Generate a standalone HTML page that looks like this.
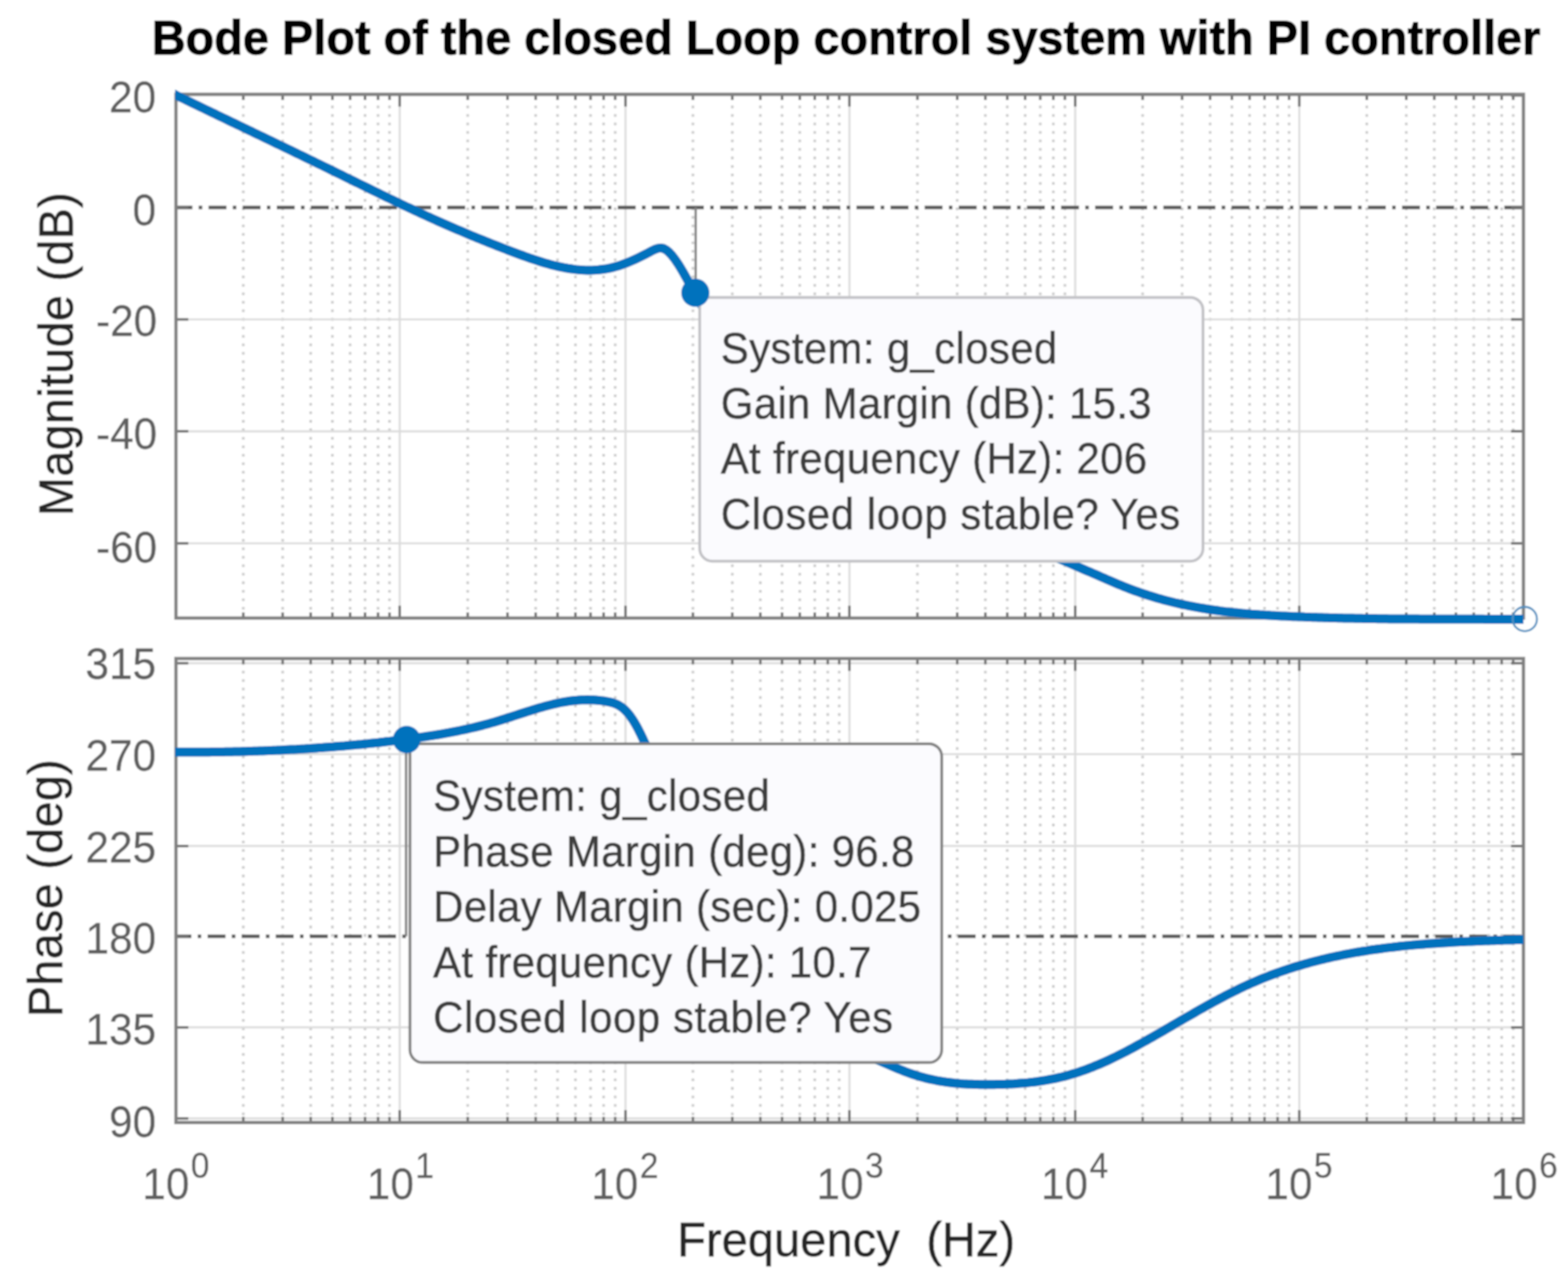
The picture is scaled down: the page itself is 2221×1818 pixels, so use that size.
<!DOCTYPE html>
<html lang="en">
<head>
<meta charset="utf-8">
<title>Bode Plot of the closed Loop control system with PI controller</title>
<style>
html,body{margin:0;padding:0;background:#fff;}
body{width:2221px;height:1818px;overflow:hidden;}
svg{display:block;font-family:'Liberation Sans', Arial, Helvetica, sans-serif;}
</style>
</head>
<body>
<svg width="2221" height="1818" viewBox="0 0 2221 1818">
<defs><filter id="soft" x="0" y="0" width="2221" height="1818" filterUnits="userSpaceOnUse"><feGaussianBlur stdDeviation="0.9"/></filter></defs>
<g filter="url(#soft)">
<rect width="2221" height="1818" fill="#ffffff"/>
<clipPath id="clip1"><rect x="249.2" y="133.6" width="1908.7" height="742.1999999999999"/></clipPath>
<g clip-path="url(#clip1)">
<line x1="344.6" y1="125.52" x2="344.6" y2="875.8" stroke="#cccccc" stroke-width="3.8" stroke-dasharray="3.8 8.24"/>
<line x1="400.4" y1="125.52" x2="400.4" y2="875.8" stroke="#cccccc" stroke-width="3.8" stroke-dasharray="3.8 8.24"/>
<line x1="440.1" y1="125.52" x2="440.1" y2="875.8" stroke="#cccccc" stroke-width="3.8" stroke-dasharray="3.8 8.24"/>
<line x1="470.8" y1="125.52" x2="470.8" y2="875.8" stroke="#cccccc" stroke-width="3.8" stroke-dasharray="3.8 8.24"/>
<line x1="495.9" y1="125.52" x2="495.9" y2="875.8" stroke="#cccccc" stroke-width="3.8" stroke-dasharray="3.8 8.24"/>
<line x1="517.1" y1="125.52" x2="517.1" y2="875.8" stroke="#cccccc" stroke-width="3.8" stroke-dasharray="3.8 8.24"/>
<line x1="535.5" y1="125.52" x2="535.5" y2="875.8" stroke="#cccccc" stroke-width="3.8" stroke-dasharray="3.8 8.24"/>
<line x1="551.7" y1="125.52" x2="551.7" y2="875.8" stroke="#cccccc" stroke-width="3.8" stroke-dasharray="3.8 8.24"/>
<line x1="662.5" y1="125.52" x2="662.5" y2="875.8" stroke="#cccccc" stroke-width="3.8" stroke-dasharray="3.8 8.24"/>
<line x1="718.8" y1="125.52" x2="718.8" y2="875.8" stroke="#cccccc" stroke-width="3.8" stroke-dasharray="3.8 8.24"/>
<line x1="758.7" y1="125.52" x2="758.7" y2="875.8" stroke="#cccccc" stroke-width="3.8" stroke-dasharray="3.8 8.24"/>
<line x1="789.7" y1="125.52" x2="789.7" y2="875.8" stroke="#cccccc" stroke-width="3.8" stroke-dasharray="3.8 8.24"/>
<line x1="815.1" y1="125.52" x2="815.1" y2="875.8" stroke="#cccccc" stroke-width="3.8" stroke-dasharray="3.8 8.24"/>
<line x1="836.5" y1="125.52" x2="836.5" y2="875.8" stroke="#cccccc" stroke-width="3.8" stroke-dasharray="3.8 8.24"/>
<line x1="855.0" y1="125.52" x2="855.0" y2="875.8" stroke="#cccccc" stroke-width="3.8" stroke-dasharray="3.8 8.24"/>
<line x1="871.4" y1="125.52" x2="871.4" y2="875.8" stroke="#cccccc" stroke-width="3.8" stroke-dasharray="3.8 8.24"/>
<line x1="981.5" y1="125.52" x2="981.5" y2="875.8" stroke="#cccccc" stroke-width="3.8" stroke-dasharray="3.8 8.24"/>
<line x1="1037.3" y1="125.52" x2="1037.3" y2="875.8" stroke="#cccccc" stroke-width="3.8" stroke-dasharray="3.8 8.24"/>
<line x1="1077.0" y1="125.52" x2="1077.0" y2="875.8" stroke="#cccccc" stroke-width="3.8" stroke-dasharray="3.8 8.24"/>
<line x1="1107.7" y1="125.52" x2="1107.7" y2="875.8" stroke="#cccccc" stroke-width="3.8" stroke-dasharray="3.8 8.24"/>
<line x1="1132.8" y1="125.52" x2="1132.8" y2="875.8" stroke="#cccccc" stroke-width="3.8" stroke-dasharray="3.8 8.24"/>
<line x1="1154.1" y1="125.52" x2="1154.1" y2="875.8" stroke="#cccccc" stroke-width="3.8" stroke-dasharray="3.8 8.24"/>
<line x1="1172.5" y1="125.52" x2="1172.5" y2="875.8" stroke="#cccccc" stroke-width="3.8" stroke-dasharray="3.8 8.24"/>
<line x1="1188.7" y1="125.52" x2="1188.7" y2="875.8" stroke="#cccccc" stroke-width="3.8" stroke-dasharray="3.8 8.24"/>
<line x1="1299.5" y1="125.52" x2="1299.5" y2="875.8" stroke="#cccccc" stroke-width="3.8" stroke-dasharray="3.8 8.24"/>
<line x1="1355.8" y1="125.52" x2="1355.8" y2="875.8" stroke="#cccccc" stroke-width="3.8" stroke-dasharray="3.8 8.24"/>
<line x1="1395.7" y1="125.52" x2="1395.7" y2="875.8" stroke="#cccccc" stroke-width="3.8" stroke-dasharray="3.8 8.24"/>
<line x1="1426.7" y1="125.52" x2="1426.7" y2="875.8" stroke="#cccccc" stroke-width="3.8" stroke-dasharray="3.8 8.24"/>
<line x1="1452.1" y1="125.52" x2="1452.1" y2="875.8" stroke="#cccccc" stroke-width="3.8" stroke-dasharray="3.8 8.24"/>
<line x1="1473.5" y1="125.52" x2="1473.5" y2="875.8" stroke="#cccccc" stroke-width="3.8" stroke-dasharray="3.8 8.24"/>
<line x1="1492.0" y1="125.52" x2="1492.0" y2="875.8" stroke="#cccccc" stroke-width="3.8" stroke-dasharray="3.8 8.24"/>
<line x1="1508.4" y1="125.52" x2="1508.4" y2="875.8" stroke="#cccccc" stroke-width="3.8" stroke-dasharray="3.8 8.24"/>
<line x1="1618.5" y1="125.52" x2="1618.5" y2="875.8" stroke="#cccccc" stroke-width="3.8" stroke-dasharray="3.8 8.24"/>
<line x1="1674.4" y1="125.52" x2="1674.4" y2="875.8" stroke="#cccccc" stroke-width="3.8" stroke-dasharray="3.8 8.24"/>
<line x1="1714.1" y1="125.52" x2="1714.1" y2="875.8" stroke="#cccccc" stroke-width="3.8" stroke-dasharray="3.8 8.24"/>
<line x1="1744.9" y1="125.52" x2="1744.9" y2="875.8" stroke="#cccccc" stroke-width="3.8" stroke-dasharray="3.8 8.24"/>
<line x1="1770.0" y1="125.52" x2="1770.0" y2="875.8" stroke="#cccccc" stroke-width="3.8" stroke-dasharray="3.8 8.24"/>
<line x1="1791.2" y1="125.52" x2="1791.2" y2="875.8" stroke="#cccccc" stroke-width="3.8" stroke-dasharray="3.8 8.24"/>
<line x1="1809.6" y1="125.52" x2="1809.6" y2="875.8" stroke="#cccccc" stroke-width="3.8" stroke-dasharray="3.8 8.24"/>
<line x1="1825.9" y1="125.52" x2="1825.9" y2="875.8" stroke="#cccccc" stroke-width="3.8" stroke-dasharray="3.8 8.24"/>
<line x1="1936.0" y1="125.52" x2="1936.0" y2="875.8" stroke="#cccccc" stroke-width="3.8" stroke-dasharray="3.8 8.24"/>
<line x1="1991.9" y1="125.52" x2="1991.9" y2="875.8" stroke="#cccccc" stroke-width="3.8" stroke-dasharray="3.8 8.24"/>
<line x1="2031.6" y1="125.52" x2="2031.6" y2="875.8" stroke="#cccccc" stroke-width="3.8" stroke-dasharray="3.8 8.24"/>
<line x1="2062.3" y1="125.52" x2="2062.3" y2="875.8" stroke="#cccccc" stroke-width="3.8" stroke-dasharray="3.8 8.24"/>
<line x1="2087.5" y1="125.52" x2="2087.5" y2="875.8" stroke="#cccccc" stroke-width="3.8" stroke-dasharray="3.8 8.24"/>
<line x1="2108.7" y1="125.52" x2="2108.7" y2="875.8" stroke="#cccccc" stroke-width="3.8" stroke-dasharray="3.8 8.24"/>
<line x1="2127.1" y1="125.52" x2="2127.1" y2="875.8" stroke="#cccccc" stroke-width="3.8" stroke-dasharray="3.8 8.24"/>
<line x1="2143.4" y1="125.52" x2="2143.4" y2="875.8" stroke="#cccccc" stroke-width="3.8" stroke-dasharray="3.8 8.24"/>
<line x1="566.2" y1="133.6" x2="566.2" y2="875.8" stroke="#dcdcdc" stroke-width="2.9"/>
<line x1="886.0" y1="133.6" x2="886.0" y2="875.8" stroke="#dcdcdc" stroke-width="2.9"/>
<line x1="1203.2" y1="133.6" x2="1203.2" y2="875.8" stroke="#dcdcdc" stroke-width="2.9"/>
<line x1="1523.0" y1="133.6" x2="1523.0" y2="875.8" stroke="#dcdcdc" stroke-width="2.9"/>
<line x1="1840.4" y1="133.6" x2="1840.4" y2="875.8" stroke="#dcdcdc" stroke-width="2.9"/>
<line x1="249.2" y1="135.3" x2="2157.9" y2="135.3" stroke="#dcdcdc" stroke-width="2.9"/>
<line x1="249.2" y1="452.6" x2="2157.9" y2="452.6" stroke="#dcdcdc" stroke-width="2.9"/>
<line x1="249.2" y1="611.2" x2="2157.9" y2="611.2" stroke="#dcdcdc" stroke-width="2.9"/>
<line x1="249.2" y1="769.9" x2="2157.9" y2="769.9" stroke="#dcdcdc" stroke-width="2.9"/>
</g>
<clipPath id="clip2"><rect x="249.2" y="933.1" width="1908.7" height="657.4999999999999"/></clipPath>
<g clip-path="url(#clip2)">
<line x1="344.6" y1="926.30" x2="344.6" y2="1590.6" stroke="#cccccc" stroke-width="3.8" stroke-dasharray="3.8 8.24"/>
<line x1="400.4" y1="926.30" x2="400.4" y2="1590.6" stroke="#cccccc" stroke-width="3.8" stroke-dasharray="3.8 8.24"/>
<line x1="440.1" y1="926.30" x2="440.1" y2="1590.6" stroke="#cccccc" stroke-width="3.8" stroke-dasharray="3.8 8.24"/>
<line x1="470.8" y1="926.30" x2="470.8" y2="1590.6" stroke="#cccccc" stroke-width="3.8" stroke-dasharray="3.8 8.24"/>
<line x1="495.9" y1="926.30" x2="495.9" y2="1590.6" stroke="#cccccc" stroke-width="3.8" stroke-dasharray="3.8 8.24"/>
<line x1="517.1" y1="926.30" x2="517.1" y2="1590.6" stroke="#cccccc" stroke-width="3.8" stroke-dasharray="3.8 8.24"/>
<line x1="535.5" y1="926.30" x2="535.5" y2="1590.6" stroke="#cccccc" stroke-width="3.8" stroke-dasharray="3.8 8.24"/>
<line x1="551.7" y1="926.30" x2="551.7" y2="1590.6" stroke="#cccccc" stroke-width="3.8" stroke-dasharray="3.8 8.24"/>
<line x1="662.5" y1="926.30" x2="662.5" y2="1590.6" stroke="#cccccc" stroke-width="3.8" stroke-dasharray="3.8 8.24"/>
<line x1="718.8" y1="926.30" x2="718.8" y2="1590.6" stroke="#cccccc" stroke-width="3.8" stroke-dasharray="3.8 8.24"/>
<line x1="758.7" y1="926.30" x2="758.7" y2="1590.6" stroke="#cccccc" stroke-width="3.8" stroke-dasharray="3.8 8.24"/>
<line x1="789.7" y1="926.30" x2="789.7" y2="1590.6" stroke="#cccccc" stroke-width="3.8" stroke-dasharray="3.8 8.24"/>
<line x1="815.1" y1="926.30" x2="815.1" y2="1590.6" stroke="#cccccc" stroke-width="3.8" stroke-dasharray="3.8 8.24"/>
<line x1="836.5" y1="926.30" x2="836.5" y2="1590.6" stroke="#cccccc" stroke-width="3.8" stroke-dasharray="3.8 8.24"/>
<line x1="855.0" y1="926.30" x2="855.0" y2="1590.6" stroke="#cccccc" stroke-width="3.8" stroke-dasharray="3.8 8.24"/>
<line x1="871.4" y1="926.30" x2="871.4" y2="1590.6" stroke="#cccccc" stroke-width="3.8" stroke-dasharray="3.8 8.24"/>
<line x1="981.5" y1="926.30" x2="981.5" y2="1590.6" stroke="#cccccc" stroke-width="3.8" stroke-dasharray="3.8 8.24"/>
<line x1="1037.3" y1="926.30" x2="1037.3" y2="1590.6" stroke="#cccccc" stroke-width="3.8" stroke-dasharray="3.8 8.24"/>
<line x1="1077.0" y1="926.30" x2="1077.0" y2="1590.6" stroke="#cccccc" stroke-width="3.8" stroke-dasharray="3.8 8.24"/>
<line x1="1107.7" y1="926.30" x2="1107.7" y2="1590.6" stroke="#cccccc" stroke-width="3.8" stroke-dasharray="3.8 8.24"/>
<line x1="1132.8" y1="926.30" x2="1132.8" y2="1590.6" stroke="#cccccc" stroke-width="3.8" stroke-dasharray="3.8 8.24"/>
<line x1="1154.1" y1="926.30" x2="1154.1" y2="1590.6" stroke="#cccccc" stroke-width="3.8" stroke-dasharray="3.8 8.24"/>
<line x1="1172.5" y1="926.30" x2="1172.5" y2="1590.6" stroke="#cccccc" stroke-width="3.8" stroke-dasharray="3.8 8.24"/>
<line x1="1188.7" y1="926.30" x2="1188.7" y2="1590.6" stroke="#cccccc" stroke-width="3.8" stroke-dasharray="3.8 8.24"/>
<line x1="1299.5" y1="926.30" x2="1299.5" y2="1590.6" stroke="#cccccc" stroke-width="3.8" stroke-dasharray="3.8 8.24"/>
<line x1="1355.8" y1="926.30" x2="1355.8" y2="1590.6" stroke="#cccccc" stroke-width="3.8" stroke-dasharray="3.8 8.24"/>
<line x1="1395.7" y1="926.30" x2="1395.7" y2="1590.6" stroke="#cccccc" stroke-width="3.8" stroke-dasharray="3.8 8.24"/>
<line x1="1426.7" y1="926.30" x2="1426.7" y2="1590.6" stroke="#cccccc" stroke-width="3.8" stroke-dasharray="3.8 8.24"/>
<line x1="1452.1" y1="926.30" x2="1452.1" y2="1590.6" stroke="#cccccc" stroke-width="3.8" stroke-dasharray="3.8 8.24"/>
<line x1="1473.5" y1="926.30" x2="1473.5" y2="1590.6" stroke="#cccccc" stroke-width="3.8" stroke-dasharray="3.8 8.24"/>
<line x1="1492.0" y1="926.30" x2="1492.0" y2="1590.6" stroke="#cccccc" stroke-width="3.8" stroke-dasharray="3.8 8.24"/>
<line x1="1508.4" y1="926.30" x2="1508.4" y2="1590.6" stroke="#cccccc" stroke-width="3.8" stroke-dasharray="3.8 8.24"/>
<line x1="1618.5" y1="926.30" x2="1618.5" y2="1590.6" stroke="#cccccc" stroke-width="3.8" stroke-dasharray="3.8 8.24"/>
<line x1="1674.4" y1="926.30" x2="1674.4" y2="1590.6" stroke="#cccccc" stroke-width="3.8" stroke-dasharray="3.8 8.24"/>
<line x1="1714.1" y1="926.30" x2="1714.1" y2="1590.6" stroke="#cccccc" stroke-width="3.8" stroke-dasharray="3.8 8.24"/>
<line x1="1744.9" y1="926.30" x2="1744.9" y2="1590.6" stroke="#cccccc" stroke-width="3.8" stroke-dasharray="3.8 8.24"/>
<line x1="1770.0" y1="926.30" x2="1770.0" y2="1590.6" stroke="#cccccc" stroke-width="3.8" stroke-dasharray="3.8 8.24"/>
<line x1="1791.2" y1="926.30" x2="1791.2" y2="1590.6" stroke="#cccccc" stroke-width="3.8" stroke-dasharray="3.8 8.24"/>
<line x1="1809.6" y1="926.30" x2="1809.6" y2="1590.6" stroke="#cccccc" stroke-width="3.8" stroke-dasharray="3.8 8.24"/>
<line x1="1825.9" y1="926.30" x2="1825.9" y2="1590.6" stroke="#cccccc" stroke-width="3.8" stroke-dasharray="3.8 8.24"/>
<line x1="1936.0" y1="926.30" x2="1936.0" y2="1590.6" stroke="#cccccc" stroke-width="3.8" stroke-dasharray="3.8 8.24"/>
<line x1="1991.9" y1="926.30" x2="1991.9" y2="1590.6" stroke="#cccccc" stroke-width="3.8" stroke-dasharray="3.8 8.24"/>
<line x1="2031.6" y1="926.30" x2="2031.6" y2="1590.6" stroke="#cccccc" stroke-width="3.8" stroke-dasharray="3.8 8.24"/>
<line x1="2062.3" y1="926.30" x2="2062.3" y2="1590.6" stroke="#cccccc" stroke-width="3.8" stroke-dasharray="3.8 8.24"/>
<line x1="2087.5" y1="926.30" x2="2087.5" y2="1590.6" stroke="#cccccc" stroke-width="3.8" stroke-dasharray="3.8 8.24"/>
<line x1="2108.7" y1="926.30" x2="2108.7" y2="1590.6" stroke="#cccccc" stroke-width="3.8" stroke-dasharray="3.8 8.24"/>
<line x1="2127.1" y1="926.30" x2="2127.1" y2="1590.6" stroke="#cccccc" stroke-width="3.8" stroke-dasharray="3.8 8.24"/>
<line x1="2143.4" y1="926.30" x2="2143.4" y2="1590.6" stroke="#cccccc" stroke-width="3.8" stroke-dasharray="3.8 8.24"/>
<line x1="566.2" y1="933.1" x2="566.2" y2="1590.6" stroke="#dcdcdc" stroke-width="2.9"/>
<line x1="886.0" y1="933.1" x2="886.0" y2="1590.6" stroke="#dcdcdc" stroke-width="2.9"/>
<line x1="1203.2" y1="933.1" x2="1203.2" y2="1590.6" stroke="#dcdcdc" stroke-width="2.9"/>
<line x1="1523.0" y1="933.1" x2="1523.0" y2="1590.6" stroke="#dcdcdc" stroke-width="2.9"/>
<line x1="1840.4" y1="933.1" x2="1840.4" y2="1590.6" stroke="#dcdcdc" stroke-width="2.9"/>
<line x1="249.2" y1="939.7" x2="2157.9" y2="939.7" stroke="#dcdcdc" stroke-width="2.9"/>
<line x1="249.2" y1="1068.6" x2="2157.9" y2="1068.6" stroke="#dcdcdc" stroke-width="2.9"/>
<line x1="249.2" y1="1198.8" x2="2157.9" y2="1198.8" stroke="#dcdcdc" stroke-width="2.9"/>
<line x1="249.2" y1="1455.8" x2="2157.9" y2="1455.8" stroke="#dcdcdc" stroke-width="2.9"/>
<line x1="249.2" y1="1584.8" x2="2157.9" y2="1584.8" stroke="#dcdcdc" stroke-width="2.9"/>
</g>
<line x1="247.09999999999997" y1="293.9" x2="2157.9" y2="293.9" stroke="#585858" stroke-width="5.0" stroke-dasharray="25.4 8.9 5.1 8.9" clip-path="url(#clip1)"/>
<line x1="245.70000000000005" y1="1326.8" x2="2157.9" y2="1326.8" stroke="#585858" stroke-width="5.0" stroke-dasharray="25.4 8.9 5.1 8.9" clip-path="url(#clip2)"/>
<line x1="344.6" y1="133.6" x2="344.6" y2="141.6" stroke="#6e6e6e" stroke-width="3.6"/>
<line x1="344.6" y1="875.8" x2="344.6" y2="867.8" stroke="#6e6e6e" stroke-width="3.6"/>
<line x1="400.4" y1="133.6" x2="400.4" y2="141.6" stroke="#6e6e6e" stroke-width="3.6"/>
<line x1="400.4" y1="875.8" x2="400.4" y2="867.8" stroke="#6e6e6e" stroke-width="3.6"/>
<line x1="440.1" y1="133.6" x2="440.1" y2="141.6" stroke="#6e6e6e" stroke-width="3.6"/>
<line x1="440.1" y1="875.8" x2="440.1" y2="867.8" stroke="#6e6e6e" stroke-width="3.6"/>
<line x1="470.8" y1="133.6" x2="470.8" y2="141.6" stroke="#6e6e6e" stroke-width="3.6"/>
<line x1="470.8" y1="875.8" x2="470.8" y2="867.8" stroke="#6e6e6e" stroke-width="3.6"/>
<line x1="495.9" y1="133.6" x2="495.9" y2="141.6" stroke="#6e6e6e" stroke-width="3.6"/>
<line x1="495.9" y1="875.8" x2="495.9" y2="867.8" stroke="#6e6e6e" stroke-width="3.6"/>
<line x1="517.1" y1="133.6" x2="517.1" y2="141.6" stroke="#6e6e6e" stroke-width="3.6"/>
<line x1="517.1" y1="875.8" x2="517.1" y2="867.8" stroke="#6e6e6e" stroke-width="3.6"/>
<line x1="535.5" y1="133.6" x2="535.5" y2="141.6" stroke="#6e6e6e" stroke-width="3.6"/>
<line x1="535.5" y1="875.8" x2="535.5" y2="867.8" stroke="#6e6e6e" stroke-width="3.6"/>
<line x1="551.7" y1="133.6" x2="551.7" y2="141.6" stroke="#6e6e6e" stroke-width="3.6"/>
<line x1="551.7" y1="875.8" x2="551.7" y2="867.8" stroke="#6e6e6e" stroke-width="3.6"/>
<line x1="566.2" y1="133.6" x2="566.2" y2="151.1" stroke="#6e6e6e" stroke-width="3.6"/>
<line x1="566.2" y1="875.8" x2="566.2" y2="858.3" stroke="#6e6e6e" stroke-width="3.6"/>
<line x1="662.5" y1="133.6" x2="662.5" y2="141.6" stroke="#6e6e6e" stroke-width="3.6"/>
<line x1="662.5" y1="875.8" x2="662.5" y2="867.8" stroke="#6e6e6e" stroke-width="3.6"/>
<line x1="718.8" y1="133.6" x2="718.8" y2="141.6" stroke="#6e6e6e" stroke-width="3.6"/>
<line x1="718.8" y1="875.8" x2="718.8" y2="867.8" stroke="#6e6e6e" stroke-width="3.6"/>
<line x1="758.7" y1="133.6" x2="758.7" y2="141.6" stroke="#6e6e6e" stroke-width="3.6"/>
<line x1="758.7" y1="875.8" x2="758.7" y2="867.8" stroke="#6e6e6e" stroke-width="3.6"/>
<line x1="789.7" y1="133.6" x2="789.7" y2="141.6" stroke="#6e6e6e" stroke-width="3.6"/>
<line x1="789.7" y1="875.8" x2="789.7" y2="867.8" stroke="#6e6e6e" stroke-width="3.6"/>
<line x1="815.1" y1="133.6" x2="815.1" y2="141.6" stroke="#6e6e6e" stroke-width="3.6"/>
<line x1="815.1" y1="875.8" x2="815.1" y2="867.8" stroke="#6e6e6e" stroke-width="3.6"/>
<line x1="836.5" y1="133.6" x2="836.5" y2="141.6" stroke="#6e6e6e" stroke-width="3.6"/>
<line x1="836.5" y1="875.8" x2="836.5" y2="867.8" stroke="#6e6e6e" stroke-width="3.6"/>
<line x1="855.0" y1="133.6" x2="855.0" y2="141.6" stroke="#6e6e6e" stroke-width="3.6"/>
<line x1="855.0" y1="875.8" x2="855.0" y2="867.8" stroke="#6e6e6e" stroke-width="3.6"/>
<line x1="871.4" y1="133.6" x2="871.4" y2="141.6" stroke="#6e6e6e" stroke-width="3.6"/>
<line x1="871.4" y1="875.8" x2="871.4" y2="867.8" stroke="#6e6e6e" stroke-width="3.6"/>
<line x1="886.0" y1="133.6" x2="886.0" y2="151.1" stroke="#6e6e6e" stroke-width="3.6"/>
<line x1="886.0" y1="875.8" x2="886.0" y2="858.3" stroke="#6e6e6e" stroke-width="3.6"/>
<line x1="981.5" y1="133.6" x2="981.5" y2="141.6" stroke="#6e6e6e" stroke-width="3.6"/>
<line x1="981.5" y1="875.8" x2="981.5" y2="867.8" stroke="#6e6e6e" stroke-width="3.6"/>
<line x1="1037.3" y1="133.6" x2="1037.3" y2="141.6" stroke="#6e6e6e" stroke-width="3.6"/>
<line x1="1037.3" y1="875.8" x2="1037.3" y2="867.8" stroke="#6e6e6e" stroke-width="3.6"/>
<line x1="1077.0" y1="133.6" x2="1077.0" y2="141.6" stroke="#6e6e6e" stroke-width="3.6"/>
<line x1="1077.0" y1="875.8" x2="1077.0" y2="867.8" stroke="#6e6e6e" stroke-width="3.6"/>
<line x1="1107.7" y1="133.6" x2="1107.7" y2="141.6" stroke="#6e6e6e" stroke-width="3.6"/>
<line x1="1107.7" y1="875.8" x2="1107.7" y2="867.8" stroke="#6e6e6e" stroke-width="3.6"/>
<line x1="1132.8" y1="133.6" x2="1132.8" y2="141.6" stroke="#6e6e6e" stroke-width="3.6"/>
<line x1="1132.8" y1="875.8" x2="1132.8" y2="867.8" stroke="#6e6e6e" stroke-width="3.6"/>
<line x1="1154.1" y1="133.6" x2="1154.1" y2="141.6" stroke="#6e6e6e" stroke-width="3.6"/>
<line x1="1154.1" y1="875.8" x2="1154.1" y2="867.8" stroke="#6e6e6e" stroke-width="3.6"/>
<line x1="1172.5" y1="133.6" x2="1172.5" y2="141.6" stroke="#6e6e6e" stroke-width="3.6"/>
<line x1="1172.5" y1="875.8" x2="1172.5" y2="867.8" stroke="#6e6e6e" stroke-width="3.6"/>
<line x1="1188.7" y1="133.6" x2="1188.7" y2="141.6" stroke="#6e6e6e" stroke-width="3.6"/>
<line x1="1188.7" y1="875.8" x2="1188.7" y2="867.8" stroke="#6e6e6e" stroke-width="3.6"/>
<line x1="1203.2" y1="133.6" x2="1203.2" y2="151.1" stroke="#6e6e6e" stroke-width="3.6"/>
<line x1="1203.2" y1="875.8" x2="1203.2" y2="858.3" stroke="#6e6e6e" stroke-width="3.6"/>
<line x1="1299.5" y1="133.6" x2="1299.5" y2="141.6" stroke="#6e6e6e" stroke-width="3.6"/>
<line x1="1299.5" y1="875.8" x2="1299.5" y2="867.8" stroke="#6e6e6e" stroke-width="3.6"/>
<line x1="1355.8" y1="133.6" x2="1355.8" y2="141.6" stroke="#6e6e6e" stroke-width="3.6"/>
<line x1="1355.8" y1="875.8" x2="1355.8" y2="867.8" stroke="#6e6e6e" stroke-width="3.6"/>
<line x1="1395.7" y1="133.6" x2="1395.7" y2="141.6" stroke="#6e6e6e" stroke-width="3.6"/>
<line x1="1395.7" y1="875.8" x2="1395.7" y2="867.8" stroke="#6e6e6e" stroke-width="3.6"/>
<line x1="1426.7" y1="133.6" x2="1426.7" y2="141.6" stroke="#6e6e6e" stroke-width="3.6"/>
<line x1="1426.7" y1="875.8" x2="1426.7" y2="867.8" stroke="#6e6e6e" stroke-width="3.6"/>
<line x1="1452.1" y1="133.6" x2="1452.1" y2="141.6" stroke="#6e6e6e" stroke-width="3.6"/>
<line x1="1452.1" y1="875.8" x2="1452.1" y2="867.8" stroke="#6e6e6e" stroke-width="3.6"/>
<line x1="1473.5" y1="133.6" x2="1473.5" y2="141.6" stroke="#6e6e6e" stroke-width="3.6"/>
<line x1="1473.5" y1="875.8" x2="1473.5" y2="867.8" stroke="#6e6e6e" stroke-width="3.6"/>
<line x1="1492.0" y1="133.6" x2="1492.0" y2="141.6" stroke="#6e6e6e" stroke-width="3.6"/>
<line x1="1492.0" y1="875.8" x2="1492.0" y2="867.8" stroke="#6e6e6e" stroke-width="3.6"/>
<line x1="1508.4" y1="133.6" x2="1508.4" y2="141.6" stroke="#6e6e6e" stroke-width="3.6"/>
<line x1="1508.4" y1="875.8" x2="1508.4" y2="867.8" stroke="#6e6e6e" stroke-width="3.6"/>
<line x1="1523.0" y1="133.6" x2="1523.0" y2="151.1" stroke="#6e6e6e" stroke-width="3.6"/>
<line x1="1523.0" y1="875.8" x2="1523.0" y2="858.3" stroke="#6e6e6e" stroke-width="3.6"/>
<line x1="1618.5" y1="133.6" x2="1618.5" y2="141.6" stroke="#6e6e6e" stroke-width="3.6"/>
<line x1="1618.5" y1="875.8" x2="1618.5" y2="867.8" stroke="#6e6e6e" stroke-width="3.6"/>
<line x1="1674.4" y1="133.6" x2="1674.4" y2="141.6" stroke="#6e6e6e" stroke-width="3.6"/>
<line x1="1674.4" y1="875.8" x2="1674.4" y2="867.8" stroke="#6e6e6e" stroke-width="3.6"/>
<line x1="1714.1" y1="133.6" x2="1714.1" y2="141.6" stroke="#6e6e6e" stroke-width="3.6"/>
<line x1="1714.1" y1="875.8" x2="1714.1" y2="867.8" stroke="#6e6e6e" stroke-width="3.6"/>
<line x1="1744.9" y1="133.6" x2="1744.9" y2="141.6" stroke="#6e6e6e" stroke-width="3.6"/>
<line x1="1744.9" y1="875.8" x2="1744.9" y2="867.8" stroke="#6e6e6e" stroke-width="3.6"/>
<line x1="1770.0" y1="133.6" x2="1770.0" y2="141.6" stroke="#6e6e6e" stroke-width="3.6"/>
<line x1="1770.0" y1="875.8" x2="1770.0" y2="867.8" stroke="#6e6e6e" stroke-width="3.6"/>
<line x1="1791.2" y1="133.6" x2="1791.2" y2="141.6" stroke="#6e6e6e" stroke-width="3.6"/>
<line x1="1791.2" y1="875.8" x2="1791.2" y2="867.8" stroke="#6e6e6e" stroke-width="3.6"/>
<line x1="1809.6" y1="133.6" x2="1809.6" y2="141.6" stroke="#6e6e6e" stroke-width="3.6"/>
<line x1="1809.6" y1="875.8" x2="1809.6" y2="867.8" stroke="#6e6e6e" stroke-width="3.6"/>
<line x1="1825.9" y1="133.6" x2="1825.9" y2="141.6" stroke="#6e6e6e" stroke-width="3.6"/>
<line x1="1825.9" y1="875.8" x2="1825.9" y2="867.8" stroke="#6e6e6e" stroke-width="3.6"/>
<line x1="1840.4" y1="133.6" x2="1840.4" y2="151.1" stroke="#6e6e6e" stroke-width="3.6"/>
<line x1="1840.4" y1="875.8" x2="1840.4" y2="858.3" stroke="#6e6e6e" stroke-width="3.6"/>
<line x1="1936.0" y1="133.6" x2="1936.0" y2="141.6" stroke="#6e6e6e" stroke-width="3.6"/>
<line x1="1936.0" y1="875.8" x2="1936.0" y2="867.8" stroke="#6e6e6e" stroke-width="3.6"/>
<line x1="1991.9" y1="133.6" x2="1991.9" y2="141.6" stroke="#6e6e6e" stroke-width="3.6"/>
<line x1="1991.9" y1="875.8" x2="1991.9" y2="867.8" stroke="#6e6e6e" stroke-width="3.6"/>
<line x1="2031.6" y1="133.6" x2="2031.6" y2="141.6" stroke="#6e6e6e" stroke-width="3.6"/>
<line x1="2031.6" y1="875.8" x2="2031.6" y2="867.8" stroke="#6e6e6e" stroke-width="3.6"/>
<line x1="2062.3" y1="133.6" x2="2062.3" y2="141.6" stroke="#6e6e6e" stroke-width="3.6"/>
<line x1="2062.3" y1="875.8" x2="2062.3" y2="867.8" stroke="#6e6e6e" stroke-width="3.6"/>
<line x1="2087.5" y1="133.6" x2="2087.5" y2="141.6" stroke="#6e6e6e" stroke-width="3.6"/>
<line x1="2087.5" y1="875.8" x2="2087.5" y2="867.8" stroke="#6e6e6e" stroke-width="3.6"/>
<line x1="2108.7" y1="133.6" x2="2108.7" y2="141.6" stroke="#6e6e6e" stroke-width="3.6"/>
<line x1="2108.7" y1="875.8" x2="2108.7" y2="867.8" stroke="#6e6e6e" stroke-width="3.6"/>
<line x1="2127.1" y1="133.6" x2="2127.1" y2="141.6" stroke="#6e6e6e" stroke-width="3.6"/>
<line x1="2127.1" y1="875.8" x2="2127.1" y2="867.8" stroke="#6e6e6e" stroke-width="3.6"/>
<line x1="2143.4" y1="133.6" x2="2143.4" y2="141.6" stroke="#6e6e6e" stroke-width="3.6"/>
<line x1="2143.4" y1="875.8" x2="2143.4" y2="867.8" stroke="#6e6e6e" stroke-width="3.6"/>
<line x1="249.2" y1="135.3" x2="266.7" y2="135.3" stroke="#6e6e6e" stroke-width="3.6"/>
<line x1="2157.9" y1="135.3" x2="2140.4" y2="135.3" stroke="#6e6e6e" stroke-width="3.6"/>
<line x1="249.2" y1="293.9" x2="266.7" y2="293.9" stroke="#6e6e6e" stroke-width="3.6"/>
<line x1="2157.9" y1="293.9" x2="2140.4" y2="293.9" stroke="#6e6e6e" stroke-width="3.6"/>
<line x1="249.2" y1="452.6" x2="266.7" y2="452.6" stroke="#6e6e6e" stroke-width="3.6"/>
<line x1="2157.9" y1="452.6" x2="2140.4" y2="452.6" stroke="#6e6e6e" stroke-width="3.6"/>
<line x1="249.2" y1="611.2" x2="266.7" y2="611.2" stroke="#6e6e6e" stroke-width="3.6"/>
<line x1="2157.9" y1="611.2" x2="2140.4" y2="611.2" stroke="#6e6e6e" stroke-width="3.6"/>
<line x1="249.2" y1="769.9" x2="266.7" y2="769.9" stroke="#6e6e6e" stroke-width="3.6"/>
<line x1="2157.9" y1="769.9" x2="2140.4" y2="769.9" stroke="#6e6e6e" stroke-width="3.6"/>
<rect x="249.2" y="133.6" width="1908.7" height="742.1999999999999" fill="none" stroke="#808080" stroke-width="4.7"/>
<line x1="344.6" y1="933.1" x2="344.6" y2="941.1" stroke="#6e6e6e" stroke-width="3.6"/>
<line x1="344.6" y1="1590.6" x2="344.6" y2="1582.6" stroke="#6e6e6e" stroke-width="3.6"/>
<line x1="400.4" y1="933.1" x2="400.4" y2="941.1" stroke="#6e6e6e" stroke-width="3.6"/>
<line x1="400.4" y1="1590.6" x2="400.4" y2="1582.6" stroke="#6e6e6e" stroke-width="3.6"/>
<line x1="440.1" y1="933.1" x2="440.1" y2="941.1" stroke="#6e6e6e" stroke-width="3.6"/>
<line x1="440.1" y1="1590.6" x2="440.1" y2="1582.6" stroke="#6e6e6e" stroke-width="3.6"/>
<line x1="470.8" y1="933.1" x2="470.8" y2="941.1" stroke="#6e6e6e" stroke-width="3.6"/>
<line x1="470.8" y1="1590.6" x2="470.8" y2="1582.6" stroke="#6e6e6e" stroke-width="3.6"/>
<line x1="495.9" y1="933.1" x2="495.9" y2="941.1" stroke="#6e6e6e" stroke-width="3.6"/>
<line x1="495.9" y1="1590.6" x2="495.9" y2="1582.6" stroke="#6e6e6e" stroke-width="3.6"/>
<line x1="517.1" y1="933.1" x2="517.1" y2="941.1" stroke="#6e6e6e" stroke-width="3.6"/>
<line x1="517.1" y1="1590.6" x2="517.1" y2="1582.6" stroke="#6e6e6e" stroke-width="3.6"/>
<line x1="535.5" y1="933.1" x2="535.5" y2="941.1" stroke="#6e6e6e" stroke-width="3.6"/>
<line x1="535.5" y1="1590.6" x2="535.5" y2="1582.6" stroke="#6e6e6e" stroke-width="3.6"/>
<line x1="551.7" y1="933.1" x2="551.7" y2="941.1" stroke="#6e6e6e" stroke-width="3.6"/>
<line x1="551.7" y1="1590.6" x2="551.7" y2="1582.6" stroke="#6e6e6e" stroke-width="3.6"/>
<line x1="566.2" y1="933.1" x2="566.2" y2="950.6" stroke="#6e6e6e" stroke-width="3.6"/>
<line x1="566.2" y1="1590.6" x2="566.2" y2="1573.1" stroke="#6e6e6e" stroke-width="3.6"/>
<line x1="662.5" y1="933.1" x2="662.5" y2="941.1" stroke="#6e6e6e" stroke-width="3.6"/>
<line x1="662.5" y1="1590.6" x2="662.5" y2="1582.6" stroke="#6e6e6e" stroke-width="3.6"/>
<line x1="718.8" y1="933.1" x2="718.8" y2="941.1" stroke="#6e6e6e" stroke-width="3.6"/>
<line x1="718.8" y1="1590.6" x2="718.8" y2="1582.6" stroke="#6e6e6e" stroke-width="3.6"/>
<line x1="758.7" y1="933.1" x2="758.7" y2="941.1" stroke="#6e6e6e" stroke-width="3.6"/>
<line x1="758.7" y1="1590.6" x2="758.7" y2="1582.6" stroke="#6e6e6e" stroke-width="3.6"/>
<line x1="789.7" y1="933.1" x2="789.7" y2="941.1" stroke="#6e6e6e" stroke-width="3.6"/>
<line x1="789.7" y1="1590.6" x2="789.7" y2="1582.6" stroke="#6e6e6e" stroke-width="3.6"/>
<line x1="815.1" y1="933.1" x2="815.1" y2="941.1" stroke="#6e6e6e" stroke-width="3.6"/>
<line x1="815.1" y1="1590.6" x2="815.1" y2="1582.6" stroke="#6e6e6e" stroke-width="3.6"/>
<line x1="836.5" y1="933.1" x2="836.5" y2="941.1" stroke="#6e6e6e" stroke-width="3.6"/>
<line x1="836.5" y1="1590.6" x2="836.5" y2="1582.6" stroke="#6e6e6e" stroke-width="3.6"/>
<line x1="855.0" y1="933.1" x2="855.0" y2="941.1" stroke="#6e6e6e" stroke-width="3.6"/>
<line x1="855.0" y1="1590.6" x2="855.0" y2="1582.6" stroke="#6e6e6e" stroke-width="3.6"/>
<line x1="871.4" y1="933.1" x2="871.4" y2="941.1" stroke="#6e6e6e" stroke-width="3.6"/>
<line x1="871.4" y1="1590.6" x2="871.4" y2="1582.6" stroke="#6e6e6e" stroke-width="3.6"/>
<line x1="886.0" y1="933.1" x2="886.0" y2="950.6" stroke="#6e6e6e" stroke-width="3.6"/>
<line x1="886.0" y1="1590.6" x2="886.0" y2="1573.1" stroke="#6e6e6e" stroke-width="3.6"/>
<line x1="981.5" y1="933.1" x2="981.5" y2="941.1" stroke="#6e6e6e" stroke-width="3.6"/>
<line x1="981.5" y1="1590.6" x2="981.5" y2="1582.6" stroke="#6e6e6e" stroke-width="3.6"/>
<line x1="1037.3" y1="933.1" x2="1037.3" y2="941.1" stroke="#6e6e6e" stroke-width="3.6"/>
<line x1="1037.3" y1="1590.6" x2="1037.3" y2="1582.6" stroke="#6e6e6e" stroke-width="3.6"/>
<line x1="1077.0" y1="933.1" x2="1077.0" y2="941.1" stroke="#6e6e6e" stroke-width="3.6"/>
<line x1="1077.0" y1="1590.6" x2="1077.0" y2="1582.6" stroke="#6e6e6e" stroke-width="3.6"/>
<line x1="1107.7" y1="933.1" x2="1107.7" y2="941.1" stroke="#6e6e6e" stroke-width="3.6"/>
<line x1="1107.7" y1="1590.6" x2="1107.7" y2="1582.6" stroke="#6e6e6e" stroke-width="3.6"/>
<line x1="1132.8" y1="933.1" x2="1132.8" y2="941.1" stroke="#6e6e6e" stroke-width="3.6"/>
<line x1="1132.8" y1="1590.6" x2="1132.8" y2="1582.6" stroke="#6e6e6e" stroke-width="3.6"/>
<line x1="1154.1" y1="933.1" x2="1154.1" y2="941.1" stroke="#6e6e6e" stroke-width="3.6"/>
<line x1="1154.1" y1="1590.6" x2="1154.1" y2="1582.6" stroke="#6e6e6e" stroke-width="3.6"/>
<line x1="1172.5" y1="933.1" x2="1172.5" y2="941.1" stroke="#6e6e6e" stroke-width="3.6"/>
<line x1="1172.5" y1="1590.6" x2="1172.5" y2="1582.6" stroke="#6e6e6e" stroke-width="3.6"/>
<line x1="1188.7" y1="933.1" x2="1188.7" y2="941.1" stroke="#6e6e6e" stroke-width="3.6"/>
<line x1="1188.7" y1="1590.6" x2="1188.7" y2="1582.6" stroke="#6e6e6e" stroke-width="3.6"/>
<line x1="1203.2" y1="933.1" x2="1203.2" y2="950.6" stroke="#6e6e6e" stroke-width="3.6"/>
<line x1="1203.2" y1="1590.6" x2="1203.2" y2="1573.1" stroke="#6e6e6e" stroke-width="3.6"/>
<line x1="1299.5" y1="933.1" x2="1299.5" y2="941.1" stroke="#6e6e6e" stroke-width="3.6"/>
<line x1="1299.5" y1="1590.6" x2="1299.5" y2="1582.6" stroke="#6e6e6e" stroke-width="3.6"/>
<line x1="1355.8" y1="933.1" x2="1355.8" y2="941.1" stroke="#6e6e6e" stroke-width="3.6"/>
<line x1="1355.8" y1="1590.6" x2="1355.8" y2="1582.6" stroke="#6e6e6e" stroke-width="3.6"/>
<line x1="1395.7" y1="933.1" x2="1395.7" y2="941.1" stroke="#6e6e6e" stroke-width="3.6"/>
<line x1="1395.7" y1="1590.6" x2="1395.7" y2="1582.6" stroke="#6e6e6e" stroke-width="3.6"/>
<line x1="1426.7" y1="933.1" x2="1426.7" y2="941.1" stroke="#6e6e6e" stroke-width="3.6"/>
<line x1="1426.7" y1="1590.6" x2="1426.7" y2="1582.6" stroke="#6e6e6e" stroke-width="3.6"/>
<line x1="1452.1" y1="933.1" x2="1452.1" y2="941.1" stroke="#6e6e6e" stroke-width="3.6"/>
<line x1="1452.1" y1="1590.6" x2="1452.1" y2="1582.6" stroke="#6e6e6e" stroke-width="3.6"/>
<line x1="1473.5" y1="933.1" x2="1473.5" y2="941.1" stroke="#6e6e6e" stroke-width="3.6"/>
<line x1="1473.5" y1="1590.6" x2="1473.5" y2="1582.6" stroke="#6e6e6e" stroke-width="3.6"/>
<line x1="1492.0" y1="933.1" x2="1492.0" y2="941.1" stroke="#6e6e6e" stroke-width="3.6"/>
<line x1="1492.0" y1="1590.6" x2="1492.0" y2="1582.6" stroke="#6e6e6e" stroke-width="3.6"/>
<line x1="1508.4" y1="933.1" x2="1508.4" y2="941.1" stroke="#6e6e6e" stroke-width="3.6"/>
<line x1="1508.4" y1="1590.6" x2="1508.4" y2="1582.6" stroke="#6e6e6e" stroke-width="3.6"/>
<line x1="1523.0" y1="933.1" x2="1523.0" y2="950.6" stroke="#6e6e6e" stroke-width="3.6"/>
<line x1="1523.0" y1="1590.6" x2="1523.0" y2="1573.1" stroke="#6e6e6e" stroke-width="3.6"/>
<line x1="1618.5" y1="933.1" x2="1618.5" y2="941.1" stroke="#6e6e6e" stroke-width="3.6"/>
<line x1="1618.5" y1="1590.6" x2="1618.5" y2="1582.6" stroke="#6e6e6e" stroke-width="3.6"/>
<line x1="1674.4" y1="933.1" x2="1674.4" y2="941.1" stroke="#6e6e6e" stroke-width="3.6"/>
<line x1="1674.4" y1="1590.6" x2="1674.4" y2="1582.6" stroke="#6e6e6e" stroke-width="3.6"/>
<line x1="1714.1" y1="933.1" x2="1714.1" y2="941.1" stroke="#6e6e6e" stroke-width="3.6"/>
<line x1="1714.1" y1="1590.6" x2="1714.1" y2="1582.6" stroke="#6e6e6e" stroke-width="3.6"/>
<line x1="1744.9" y1="933.1" x2="1744.9" y2="941.1" stroke="#6e6e6e" stroke-width="3.6"/>
<line x1="1744.9" y1="1590.6" x2="1744.9" y2="1582.6" stroke="#6e6e6e" stroke-width="3.6"/>
<line x1="1770.0" y1="933.1" x2="1770.0" y2="941.1" stroke="#6e6e6e" stroke-width="3.6"/>
<line x1="1770.0" y1="1590.6" x2="1770.0" y2="1582.6" stroke="#6e6e6e" stroke-width="3.6"/>
<line x1="1791.2" y1="933.1" x2="1791.2" y2="941.1" stroke="#6e6e6e" stroke-width="3.6"/>
<line x1="1791.2" y1="1590.6" x2="1791.2" y2="1582.6" stroke="#6e6e6e" stroke-width="3.6"/>
<line x1="1809.6" y1="933.1" x2="1809.6" y2="941.1" stroke="#6e6e6e" stroke-width="3.6"/>
<line x1="1809.6" y1="1590.6" x2="1809.6" y2="1582.6" stroke="#6e6e6e" stroke-width="3.6"/>
<line x1="1825.9" y1="933.1" x2="1825.9" y2="941.1" stroke="#6e6e6e" stroke-width="3.6"/>
<line x1="1825.9" y1="1590.6" x2="1825.9" y2="1582.6" stroke="#6e6e6e" stroke-width="3.6"/>
<line x1="1840.4" y1="933.1" x2="1840.4" y2="950.6" stroke="#6e6e6e" stroke-width="3.6"/>
<line x1="1840.4" y1="1590.6" x2="1840.4" y2="1573.1" stroke="#6e6e6e" stroke-width="3.6"/>
<line x1="1936.0" y1="933.1" x2="1936.0" y2="941.1" stroke="#6e6e6e" stroke-width="3.6"/>
<line x1="1936.0" y1="1590.6" x2="1936.0" y2="1582.6" stroke="#6e6e6e" stroke-width="3.6"/>
<line x1="1991.9" y1="933.1" x2="1991.9" y2="941.1" stroke="#6e6e6e" stroke-width="3.6"/>
<line x1="1991.9" y1="1590.6" x2="1991.9" y2="1582.6" stroke="#6e6e6e" stroke-width="3.6"/>
<line x1="2031.6" y1="933.1" x2="2031.6" y2="941.1" stroke="#6e6e6e" stroke-width="3.6"/>
<line x1="2031.6" y1="1590.6" x2="2031.6" y2="1582.6" stroke="#6e6e6e" stroke-width="3.6"/>
<line x1="2062.3" y1="933.1" x2="2062.3" y2="941.1" stroke="#6e6e6e" stroke-width="3.6"/>
<line x1="2062.3" y1="1590.6" x2="2062.3" y2="1582.6" stroke="#6e6e6e" stroke-width="3.6"/>
<line x1="2087.5" y1="933.1" x2="2087.5" y2="941.1" stroke="#6e6e6e" stroke-width="3.6"/>
<line x1="2087.5" y1="1590.6" x2="2087.5" y2="1582.6" stroke="#6e6e6e" stroke-width="3.6"/>
<line x1="2108.7" y1="933.1" x2="2108.7" y2="941.1" stroke="#6e6e6e" stroke-width="3.6"/>
<line x1="2108.7" y1="1590.6" x2="2108.7" y2="1582.6" stroke="#6e6e6e" stroke-width="3.6"/>
<line x1="2127.1" y1="933.1" x2="2127.1" y2="941.1" stroke="#6e6e6e" stroke-width="3.6"/>
<line x1="2127.1" y1="1590.6" x2="2127.1" y2="1582.6" stroke="#6e6e6e" stroke-width="3.6"/>
<line x1="2143.4" y1="933.1" x2="2143.4" y2="941.1" stroke="#6e6e6e" stroke-width="3.6"/>
<line x1="2143.4" y1="1590.6" x2="2143.4" y2="1582.6" stroke="#6e6e6e" stroke-width="3.6"/>
<line x1="249.2" y1="939.7" x2="266.7" y2="939.7" stroke="#6e6e6e" stroke-width="3.6"/>
<line x1="2157.9" y1="939.7" x2="2140.4" y2="939.7" stroke="#6e6e6e" stroke-width="3.6"/>
<line x1="249.2" y1="1068.6" x2="266.7" y2="1068.6" stroke="#6e6e6e" stroke-width="3.6"/>
<line x1="2157.9" y1="1068.6" x2="2140.4" y2="1068.6" stroke="#6e6e6e" stroke-width="3.6"/>
<line x1="249.2" y1="1198.8" x2="266.7" y2="1198.8" stroke="#6e6e6e" stroke-width="3.6"/>
<line x1="2157.9" y1="1198.8" x2="2140.4" y2="1198.8" stroke="#6e6e6e" stroke-width="3.6"/>
<line x1="249.2" y1="1326.8" x2="266.7" y2="1326.8" stroke="#6e6e6e" stroke-width="3.6"/>
<line x1="2157.9" y1="1326.8" x2="2140.4" y2="1326.8" stroke="#6e6e6e" stroke-width="3.6"/>
<line x1="249.2" y1="1455.8" x2="266.7" y2="1455.8" stroke="#6e6e6e" stroke-width="3.6"/>
<line x1="2157.9" y1="1455.8" x2="2140.4" y2="1455.8" stroke="#6e6e6e" stroke-width="3.6"/>
<line x1="249.2" y1="1584.8" x2="266.7" y2="1584.8" stroke="#6e6e6e" stroke-width="3.6"/>
<line x1="2157.9" y1="1584.8" x2="2140.4" y2="1584.8" stroke="#6e6e6e" stroke-width="3.6"/>
<rect x="249.2" y="933.1" width="1908.7" height="657.4999999999999" fill="none" stroke="#808080" stroke-width="4.7"/>
<clipPath id="clipc"><rect x="247.9" y="100" width="1910.3" height="1600"/></clipPath>
<g clip-path="url(#clipc)">
<path d="M240.0,130.4 L244.0,132.3 L248.0,134.2 L252.0,136.2 L256.0,138.1 L260.0,140.0 L264.0,142.0 L268.0,143.9 L272.0,145.8 L276.0,147.8 L280.0,149.7 L284.0,151.6 L288.0,153.5 L292.0,155.5 L296.0,157.4 L300.0,159.3 L304.0,161.2 L308.0,163.2 L312.0,165.1 L316.0,167.0 L320.0,168.9 L324.0,170.9 L328.0,172.8 L332.0,174.7 L336.0,176.6 L340.0,178.5 L344.0,180.5 L348.0,182.4 L352.0,184.3 L356.0,186.2 L360.0,188.2 L364.0,190.1 L368.0,192.0 L372.0,193.9 L376.0,195.8 L380.0,197.8 L384.0,199.7 L388.0,201.6 L392.0,203.6 L396.0,205.5 L400.0,207.4 L404.0,209.3 L408.0,211.3 L412.0,213.2 L416.0,215.1 L420.0,217.1 L424.0,219.0 L428.0,220.9 L432.0,222.9 L436.0,224.8 L440.0,226.8 L444.0,228.7 L448.0,230.7 L452.0,232.6 L456.0,234.5 L460.0,236.5 L464.0,238.4 L468.0,240.4 L472.0,242.4 L476.0,244.3 L480.0,246.3 L484.0,248.2 L488.0,250.2 L492.0,252.2 L496.0,254.1 L500.0,256.1 L504.0,258.1 L508.0,260.0 L512.0,262.0 L516.0,263.9 L520.0,265.9 L524.0,267.9 L528.0,269.8 L532.0,271.8 L536.0,273.7 L540.0,275.7 L544.0,277.6 L548.0,279.6 L552.0,281.5 L556.0,283.4 L560.0,285.3 L564.0,287.2 L568.0,289.2 L572.0,291.1 L576.0,293.0 L580.0,294.8 L584.0,296.7 L588.0,298.6 L592.0,300.4 L596.0,302.3 L600.0,304.1 L604.0,306.0 L608.0,307.8 L612.0,309.6 L616.0,311.4 L620.0,313.2 L624.0,315.0 L628.0,316.7 L632.0,318.5 L636.0,320.2 L640.0,322.0 L644.0,323.7 L648.0,325.4 L652.0,327.1 L656.0,328.8 L660.0,330.5 L664.0,332.2 L668.0,333.9 L672.0,335.5 L676.0,337.2 L680.0,338.8 L684.0,340.4 L688.0,342.0 L692.0,343.6 L696.0,345.2 L700.0,346.8 L704.0,348.4 L708.0,349.9 L712.0,351.5 L716.0,353.0 L720.0,354.6 L724.0,356.1 L728.0,357.6 L732.0,359.1 L736.0,360.6 L740.0,362.0 L744.0,363.5 L748.0,364.9 L752.0,366.3 L756.0,367.6 L760.0,368.9 L764.0,370.2 L768.0,371.5 L772.0,372.7 L776.0,373.8 L780.0,374.9 L784.0,376.0 L788.0,376.9 L792.0,377.9 L796.0,378.7 L800.0,379.5 L804.0,380.2 L808.0,380.8 L812.0,381.4 L816.0,381.9 L820.0,382.3 L824.0,382.6 L828.0,382.8 L832.0,382.9 L836.0,382.9 L840.0,382.8 L844.0,382.6 L848.0,382.3 L852.0,381.8 L856.0,381.3 L860.0,380.6 L864.0,379.8 L868.0,378.9 L872.0,377.8 L876.0,376.7 L880.0,375.4 L884.0,373.9 L888.0,372.4 L892.0,370.8 L896.0,369.1 L900.0,367.3 L904.0,365.4 L908.0,363.4 L912.0,361.4 L916.0,359.4 L920.0,357.2 L924.0,355.1 L928.0,353.2 L932.0,351.9 L936.0,351.4 L940.0,352.2 L944.0,354.4 L948.0,357.8 L952.0,362.2 L956.0,367.4 L960.0,373.2 L962.0,376.3 L964.0,379.6 L966.0,383.0 L968.0,386.4 L970.0,390.0 L972.0,393.5 L974.0,397.2 L976.0,400.9 L978.0,404.5 L980.0,408.2 L982.0,411.9 L984.0,415.5 L986.0,419.1 L988.0,422.6 L990.0,426.1 L992.0,429.5 L994.0,432.9 L996.0,436.2 L998.0,439.5 L1000.0,442.7 L1002.0,445.9 L1004.0,449.0 L1006.0,452.1 L1008.0,455.1 L1012.0,461.1 L1016.0,466.8 L1020.0,472.4 L1024.0,477.9 L1028.0,483.2 L1032.0,488.3 L1036.0,493.3 L1040.0,498.2 L1044.0,502.9 L1048.0,507.5 L1052.0,512.0 L1056.0,516.4 L1060.0,520.7 L1064.0,524.8 L1068.0,528.9 L1072.0,532.9 L1076.0,536.8 L1080.0,540.7 L1084.0,544.4 L1088.0,548.1 L1092.0,551.8 L1096.0,555.4 L1100.0,559.0 L1104.0,562.5 L1108.0,566.0 L1112.0,569.4 L1116.0,572.8 L1120.0,576.2 L1124.0,579.5 L1128.0,582.9 L1132.0,586.1 L1136.0,589.4 L1140.0,592.6 L1144.0,595.7 L1148.0,598.9 L1152.0,602.0 L1156.0,605.0 L1160.0,608.1 L1164.0,611.1 L1168.0,614.1 L1172.0,617.0 L1176.0,619.9 L1180.0,622.8 L1184.0,625.7 L1188.0,628.5 L1192.0,631.3 L1196.0,634.1 L1200.0,636.8 L1204.0,639.5 L1208.0,642.2 L1212.0,644.9 L1216.0,647.5 L1220.0,650.1 L1224.0,652.7 L1228.0,655.2 L1232.0,657.8 L1236.0,660.3 L1240.0,662.8 L1244.0,665.2 L1248.0,667.7 L1252.0,670.1 L1256.0,672.5 L1260.0,674.8 L1264.0,677.2 L1268.0,679.5 L1272.0,681.8 L1276.0,684.1 L1280.0,686.4 L1284.0,688.6 L1288.0,690.9 L1292.0,693.1 L1296.0,695.3 L1300.0,697.4 L1304.0,699.6 L1308.0,701.7 L1312.0,703.8 L1316.0,705.9 L1320.0,708.0 L1324.0,710.1 L1328.0,712.2 L1332.0,714.2 L1336.0,716.2 L1340.0,718.3 L1344.0,720.3 L1348.0,722.2 L1352.0,724.2 L1356.0,726.2 L1360.0,728.1 L1364.0,730.1 L1368.0,732.0 L1372.0,733.9 L1376.0,735.8 L1380.0,737.7 L1384.0,739.6 L1388.0,741.5 L1392.0,743.4 L1396.0,745.2 L1400.0,747.1 L1404.0,748.9 L1408.0,750.8 L1412.0,752.6 L1416.0,754.4 L1420.0,756.2 L1424.0,758.0 L1428.0,759.8 L1432.0,761.6 L1436.0,763.4 L1440.0,765.2 L1444.0,767.0 L1448.0,768.8 L1452.0,770.6 L1456.0,772.3 L1460.0,774.1 L1464.0,775.9 L1468.0,777.6 L1472.0,779.4 L1476.0,781.1 L1480.0,782.9 L1484.0,784.6 L1488.0,786.4 L1492.0,788.1 L1496.0,789.8 L1500.0,791.6 L1504.0,793.3 L1508.0,795.0 L1512.0,796.8 L1516.0,798.5 L1520.0,800.2 L1524.0,802.0 L1528.0,803.7 L1532.0,805.4 L1536.0,807.2 L1540.0,808.9 L1544.0,810.6 L1548.0,812.4 L1552.0,814.1 L1556.0,815.8 L1560.0,817.6 L1564.0,819.3 L1568.0,821.1 L1572.0,822.8 L1576.0,824.5 L1580.0,826.2 L1584.0,827.9 L1588.0,829.5 L1592.0,831.2 L1596.0,832.8 L1600.0,834.3 L1604.0,835.8 L1608.0,837.3 L1612.0,838.7 L1616.0,840.1 L1620.0,841.5 L1624.0,842.8 L1628.0,844.1 L1632.0,845.3 L1636.0,846.5 L1640.0,847.7 L1644.0,848.8 L1648.0,849.9 L1652.0,851.0 L1656.0,852.0 L1660.0,853.0 L1664.0,854.0 L1668.0,854.9 L1672.0,855.8 L1676.0,856.7 L1680.0,857.5 L1684.0,858.4 L1688.0,859.1 L1692.0,859.9 L1696.0,860.6 L1700.0,861.3 L1704.0,862.0 L1708.0,862.7 L1712.0,863.3 L1716.0,863.9 L1720.0,864.5 L1724.0,865.0 L1728.0,865.6 L1732.0,866.1 L1736.0,866.6 L1740.0,867.0 L1744.0,867.5 L1748.0,867.9 L1752.0,868.3 L1756.0,868.7 L1760.0,869.1 L1764.0,869.5 L1768.0,869.8 L1772.0,870.2 L1776.0,870.5 L1780.0,870.8 L1784.0,871.1 L1788.0,871.3 L1792.0,871.6 L1796.0,871.8 L1800.0,872.1 L1804.0,872.3 L1808.0,872.5 L1812.0,872.7 L1816.0,872.9 L1820.0,873.1 L1824.0,873.3 L1828.0,873.5 L1832.0,873.7 L1836.0,873.8 L1840.0,874.0 L1844.0,874.1 L1848.0,874.3 L1852.0,874.4 L1856.0,874.6 L1860.0,874.7 L1864.0,874.8 L1868.0,875.0 L1872.0,875.1 L1876.0,875.2 L1880.0,875.3 L1884.0,875.4 L1888.0,875.5 L1892.0,875.6 L1896.0,875.7 L1900.0,875.8 L1904.0,875.9 L1908.0,876.0 L1912.0,876.1 L1916.0,876.1 L1920.0,876.2 L1924.0,876.3 L1928.0,876.3 L1932.0,876.4 L1936.0,876.5 L1940.0,876.5 L1944.0,876.6 L1948.0,876.6 L1952.0,876.7 L1956.0,876.7 L1960.0,876.8 L1964.0,876.8 L1968.0,876.9 L1972.0,876.9 L1976.0,876.9 L1980.0,877.0 L1984.0,877.0 L1988.0,877.0 L1992.0,877.0 L1996.0,877.1 L2000.0,877.1 L2004.0,877.1 L2008.0,877.1 L2012.0,877.2 L2016.0,877.2 L2020.0,877.2 L2024.0,877.2 L2028.0,877.2 L2032.0,877.2 L2036.0,877.2 L2040.0,877.2 L2044.0,877.3 L2048.0,877.3 L2052.0,877.3 L2056.0,877.3 L2060.0,877.3 L2064.0,877.3 L2068.0,877.3 L2072.0,877.3 L2076.0,877.3 L2080.0,877.3 L2084.0,877.3 L2088.0,877.3 L2092.0,877.3 L2096.0,877.3 L2100.0,877.3 L2104.0,877.4 L2108.0,877.4 L2112.0,877.4 L2116.0,877.4 L2120.0,877.4 L2124.0,877.4 L2128.0,877.4 L2132.0,877.4 L2136.0,877.4 L2140.0,877.4 L2144.0,877.5 L2148.0,877.5 L2152.0,877.5 L2156.0,877.5 L2158.0,877.5" fill="none" stroke="#0072bd" stroke-width="13.0" stroke-linejoin="round"/>
<path d="M240.0,1065.8 L244.0,1065.8 L248.0,1065.8 L252.0,1065.8 L256.0,1065.8 L260.0,1065.8 L264.0,1065.8 L268.0,1065.8 L272.0,1065.8 L276.0,1065.8 L280.0,1065.8 L284.0,1065.8 L288.0,1065.7 L292.0,1065.7 L296.0,1065.7 L300.0,1065.6 L304.0,1065.6 L308.0,1065.5 L312.0,1065.4 L316.0,1065.4 L320.0,1065.3 L324.0,1065.2 L328.0,1065.2 L332.0,1065.1 L336.0,1065.0 L340.0,1064.9 L344.0,1064.8 L348.0,1064.7 L352.0,1064.5 L356.0,1064.4 L360.0,1064.3 L364.0,1064.2 L368.0,1064.0 L372.0,1063.9 L376.0,1063.7 L380.0,1063.6 L384.0,1063.4 L388.0,1063.2 L392.0,1063.1 L396.0,1062.9 L400.0,1062.7 L404.0,1062.5 L408.0,1062.3 L412.0,1062.1 L416.0,1061.9 L420.0,1061.7 L424.0,1061.4 L428.0,1061.2 L432.0,1061.0 L436.0,1060.7 L440.0,1060.5 L444.0,1060.2 L448.0,1059.9 L452.0,1059.6 L456.0,1059.4 L460.0,1059.1 L464.0,1058.8 L468.0,1058.5 L472.0,1058.2 L476.0,1057.8 L480.0,1057.5 L484.0,1057.2 L488.0,1056.9 L492.0,1056.5 L496.0,1056.1 L500.0,1055.8 L504.0,1055.4 L508.0,1055.0 L512.0,1054.7 L516.0,1054.3 L520.0,1053.9 L524.0,1053.4 L528.0,1053.0 L532.0,1052.6 L536.0,1052.2 L540.0,1051.7 L544.0,1051.3 L548.0,1050.8 L552.0,1050.4 L556.0,1049.9 L560.0,1049.4 L564.0,1048.9 L568.0,1048.4 L572.0,1047.9 L576.0,1047.4 L580.0,1046.9 L584.0,1046.3 L588.0,1045.8 L592.0,1045.2 L596.0,1044.7 L600.0,1044.1 L604.0,1043.5 L608.0,1042.9 L612.0,1042.3 L616.0,1041.6 L620.0,1041.0 L624.0,1040.3 L628.0,1039.6 L632.0,1038.9 L636.0,1038.2 L640.0,1037.4 L644.0,1036.6 L648.0,1035.8 L652.0,1035.0 L656.0,1034.2 L660.0,1033.3 L664.0,1032.4 L668.0,1031.5 L672.0,1030.6 L676.0,1029.6 L680.0,1028.6 L684.0,1027.6 L688.0,1026.5 L692.0,1025.4 L696.0,1024.3 L700.0,1023.2 L704.0,1022.0 L708.0,1020.8 L712.0,1019.5 L716.0,1018.3 L720.0,1017.0 L724.0,1015.7 L728.0,1014.4 L732.0,1013.1 L736.0,1011.8 L740.0,1010.5 L744.0,1009.2 L748.0,1007.9 L752.0,1006.7 L756.0,1005.4 L760.0,1004.2 L764.0,1003.0 L768.0,1001.9 L772.0,1000.8 L776.0,999.7 L780.0,998.7 L784.0,997.7 L788.0,996.8 L792.0,996.0 L796.0,995.2 L800.0,994.5 L804.0,993.8 L808.0,993.3 L812.0,992.8 L816.0,992.4 L820.0,992.1 L824.0,991.8 L828.0,991.7 L832.0,991.6 L836.0,991.7 L840.0,991.8 L844.0,992.1 L848.0,992.4 L852.0,992.9 L856.0,993.4 L860.0,994.1 L864.0,994.9 L868.0,995.9 L872.0,997.3 L876.0,999.2 L880.0,1001.7 L884.0,1004.9 L888.0,1008.9 L892.0,1013.7 L896.0,1019.4 L898.0,1022.6 L900.0,1026.0 L902.0,1029.5 L904.0,1033.3 L906.0,1037.2 L908.0,1041.2 L909.3,1044.0 L910.7,1046.9 L912.0,1049.8 L913.3,1052.7 L914.7,1055.7 L916.0,1058.7 L917.3,1061.8 L918.7,1064.9 L920.0,1068.0 L921.3,1071.2 L922.7,1074.4 L924.0,1077.7 L925.3,1080.9 L926.7,1084.2 L928.0,1087.6 L929.3,1090.9 L930.7,1094.3 L932.0,1097.7 L933.3,1101.1 L934.7,1104.5 L936.0,1107.9 L937.3,1111.4 L938.7,1114.8 L940.0,1118.3 L941.3,1121.8 L942.7,1125.2 L944.0,1128.7 L945.3,1132.2 L946.7,1135.7 L948.0,1139.1 L949.3,1142.6 L950.7,1146.1 L952.0,1149.5 L953.3,1153.0 L954.7,1156.4 L956.0,1159.8 L957.3,1163.2 L958.7,1166.6 L960.0,1170.0 L961.3,1173.4 L962.7,1176.7 L964.0,1180.0 L965.3,1183.3 L966.7,1186.6 L968.0,1189.8 L969.3,1193.0 L970.7,1196.3 L972.0,1199.5 L973.3,1202.6 L974.7,1205.8 L976.0,1208.9 L977.3,1212.0 L978.7,1215.1 L980.0,1218.2 L981.3,1221.2 L982.7,1224.3 L984.0,1227.3 L985.3,1230.3 L986.7,1233.3 L988.0,1236.2 L989.3,1239.1 L990.7,1242.1 L992.0,1245.0 L993.3,1247.8 L994.7,1250.7 L996.0,1253.5 L997.3,1256.3 L998.7,1259.1 L1000.0,1261.9 L1001.3,1264.7 L1002.7,1267.4 L1004.0,1270.1 L1005.3,1272.8 L1006.7,1275.5 L1008.0,1278.2 L1010.0,1282.1 L1012.0,1286.0 L1014.0,1289.9 L1016.0,1293.7 L1018.0,1297.5 L1020.0,1301.3 L1022.0,1305.0 L1024.0,1308.6 L1026.0,1312.2 L1028.0,1315.8 L1030.0,1319.3 L1032.0,1322.8 L1034.0,1326.2 L1036.0,1329.6 L1038.0,1333.0 L1040.0,1336.3 L1042.0,1339.6 L1044.0,1342.8 L1046.0,1346.0 L1048.0,1349.1 L1050.0,1352.2 L1052.0,1355.3 L1056.0,1361.3 L1060.0,1367.1 L1064.0,1372.8 L1068.0,1378.3 L1072.0,1383.6 L1076.0,1388.8 L1080.0,1393.8 L1084.0,1398.6 L1088.0,1403.3 L1092.0,1407.8 L1096.0,1412.1 L1100.0,1416.3 L1104.0,1420.4 L1108.0,1424.2 L1112.0,1428.0 L1116.0,1431.6 L1120.0,1435.0 L1124.0,1438.3 L1128.0,1441.5 L1132.0,1444.6 L1136.0,1447.5 L1140.0,1450.3 L1144.0,1453.1 L1148.0,1455.7 L1152.0,1458.2 L1156.0,1460.7 L1160.0,1463.0 L1164.0,1465.3 L1168.0,1467.5 L1172.0,1469.7 L1176.0,1471.8 L1180.0,1473.8 L1184.0,1475.8 L1188.0,1477.7 L1192.0,1479.6 L1196.0,1481.4 L1200.0,1483.3 L1204.0,1485.1 L1208.0,1486.8 L1212.0,1488.6 L1216.0,1490.3 L1220.0,1492.1 L1224.0,1493.8 L1228.0,1495.5 L1232.0,1497.2 L1236.0,1498.9 L1240.0,1500.6 L1244.0,1502.3 L1248.0,1504.0 L1252.0,1505.8 L1256.0,1507.5 L1260.0,1509.2 L1264.0,1511.0 L1268.0,1512.7 L1272.0,1514.4 L1276.0,1516.0 L1280.0,1517.6 L1284.0,1519.2 L1288.0,1520.6 L1292.0,1522.0 L1296.0,1523.3 L1300.0,1524.6 L1304.0,1525.7 L1308.0,1526.8 L1312.0,1527.9 L1316.0,1528.8 L1320.0,1529.7 L1324.0,1530.5 L1328.0,1531.3 L1332.0,1532.0 L1336.0,1532.6 L1340.0,1533.2 L1344.0,1533.7 L1348.0,1534.2 L1352.0,1534.7 L1356.0,1535.0 L1360.0,1535.4 L1364.0,1535.7 L1368.0,1535.9 L1372.0,1536.2 L1376.0,1536.3 L1380.0,1536.5 L1384.0,1536.6 L1388.0,1536.7 L1392.0,1536.7 L1396.0,1536.7 L1400.0,1536.7 L1404.0,1536.7 L1408.0,1536.7 L1412.0,1536.6 L1416.0,1536.5 L1420.0,1536.4 L1424.0,1536.3 L1428.0,1536.1 L1432.0,1535.9 L1436.0,1535.7 L1440.0,1535.4 L1444.0,1535.1 L1448.0,1534.8 L1452.0,1534.5 L1456.0,1534.1 L1460.0,1533.6 L1464.0,1533.2 L1468.0,1532.7 L1472.0,1532.1 L1476.0,1531.5 L1480.0,1530.9 L1484.0,1530.2 L1488.0,1529.4 L1492.0,1528.7 L1496.0,1527.8 L1500.0,1526.9 L1504.0,1526.0 L1508.0,1525.0 L1512.0,1523.9 L1516.0,1522.8 L1520.0,1521.6 L1524.0,1520.4 L1528.0,1519.1 L1532.0,1517.7 L1536.0,1516.3 L1540.0,1514.9 L1544.0,1513.3 L1548.0,1511.8 L1552.0,1510.1 L1556.0,1508.5 L1560.0,1506.7 L1564.0,1505.0 L1568.0,1503.2 L1572.0,1501.3 L1576.0,1499.4 L1580.0,1497.5 L1584.0,1495.5 L1588.0,1493.5 L1592.0,1491.5 L1596.0,1489.4 L1600.0,1487.3 L1604.0,1485.2 L1608.0,1483.0 L1612.0,1480.8 L1616.0,1478.6 L1620.0,1476.4 L1624.0,1474.2 L1628.0,1471.9 L1632.0,1469.7 L1636.0,1467.4 L1640.0,1465.1 L1644.0,1462.8 L1648.0,1460.5 L1652.0,1458.1 L1656.0,1455.8 L1660.0,1453.5 L1664.0,1451.2 L1668.0,1448.8 L1672.0,1446.5 L1676.0,1444.2 L1680.0,1441.9 L1684.0,1439.6 L1688.0,1437.3 L1692.0,1435.0 L1696.0,1432.7 L1700.0,1430.4 L1704.0,1428.2 L1708.0,1425.9 L1712.0,1423.7 L1716.0,1421.5 L1720.0,1419.3 L1724.0,1417.2 L1728.0,1415.0 L1732.0,1412.9 L1736.0,1410.8 L1740.0,1408.8 L1744.0,1406.7 L1748.0,1404.7 L1752.0,1402.8 L1756.0,1400.8 L1760.0,1398.9 L1764.0,1397.0 L1768.0,1395.2 L1772.0,1393.4 L1776.0,1391.7 L1780.0,1390.0 L1784.0,1388.3 L1788.0,1386.6 L1792.0,1385.0 L1796.0,1383.5 L1800.0,1381.9 L1804.0,1380.4 L1808.0,1379.0 L1812.0,1377.5 L1816.0,1376.1 L1820.0,1374.8 L1824.0,1373.4 L1828.0,1372.1 L1832.0,1370.8 L1836.0,1369.6 L1840.0,1368.4 L1844.0,1367.2 L1848.0,1366.1 L1852.0,1364.9 L1856.0,1363.8 L1860.0,1362.8 L1864.0,1361.7 L1868.0,1360.7 L1872.0,1359.7 L1876.0,1358.8 L1880.0,1357.8 L1884.0,1356.9 L1888.0,1356.0 L1892.0,1355.2 L1896.0,1354.3 L1900.0,1353.5 L1904.0,1352.7 L1908.0,1351.9 L1912.0,1351.2 L1916.0,1350.4 L1920.0,1349.7 L1924.0,1349.0 L1928.0,1348.3 L1932.0,1347.7 L1936.0,1347.1 L1940.0,1346.4 L1944.0,1345.8 L1948.0,1345.3 L1952.0,1344.7 L1956.0,1344.2 L1960.0,1343.6 L1964.0,1343.1 L1968.0,1342.6 L1972.0,1342.2 L1976.0,1341.7 L1980.0,1341.3 L1984.0,1340.8 L1988.0,1340.4 L1992.0,1340.0 L1996.0,1339.6 L2000.0,1339.3 L2004.0,1338.9 L2008.0,1338.5 L2012.0,1338.2 L2016.0,1337.9 L2020.0,1337.6 L2024.0,1337.3 L2028.0,1337.0 L2032.0,1336.7 L2036.0,1336.4 L2040.0,1336.2 L2044.0,1335.9 L2048.0,1335.7 L2052.0,1335.5 L2056.0,1335.2 L2060.0,1335.0 L2064.0,1334.8 L2068.0,1334.6 L2072.0,1334.4 L2076.0,1334.2 L2080.0,1334.1 L2084.0,1333.9 L2088.0,1333.7 L2092.0,1333.6 L2096.0,1333.4 L2100.0,1333.2 L2104.0,1333.1 L2108.0,1333.0 L2112.0,1332.8 L2116.0,1332.7 L2120.0,1332.5 L2124.0,1332.4 L2128.0,1332.3 L2132.0,1332.1 L2136.0,1332.0 L2140.0,1331.9 L2144.0,1331.7 L2148.0,1331.6 L2152.0,1331.5 L2156.0,1331.4 L2158.0,1331.3" fill="none" stroke="#0072bd" stroke-width="13.0" stroke-linejoin="round"/>
</g>
<circle cx="2159.8" cy="877.2" r="17.2" fill="none" stroke="#4f8fc0" stroke-width="2.8"/>
<line x1="985.4" y1="293.9" x2="985.4" y2="415.5" stroke="#808080" stroke-width="3.4"/>
<line x1="575.2" y1="1047.5" x2="575.2" y2="1326.8" stroke="#808080" stroke-width="3.4"/>
<path d="M991.1,421.5 H1686 A18,18 0 0 1 1704,439.5 V777.2 A18,18 0 0 1 1686,795.2 H1009.1 A18,18 0 0 1 991.1,777.2 Z" fill="#fbfbfe" stroke="#c2c2c6" stroke-width="4"/>
<text transform="translate(1021,514.8) scale(1,1.045)" font-size="59.5" fill="#3c3c3c" stroke="#3c3c3c" stroke-width="0.7" letter-spacing="0.467">System: g_closed</text>
<text transform="translate(1021,593.1) scale(1,1.045)" font-size="59.5" fill="#3c3c3c" stroke="#3c3c3c" stroke-width="0.7" letter-spacing="0.400">Gain Margin (dB): 15.3</text>
<text transform="translate(1021,671.4) scale(1,1.045)" font-size="59.5" fill="#3c3c3c" stroke="#3c3c3c" stroke-width="0.7" letter-spacing="0.414">At frequency (Hz): 206</text>
<text transform="translate(1021,749.7) scale(1,1.045)" font-size="59.5" fill="#3c3c3c" stroke="#3c3c3c" stroke-width="0.7" letter-spacing="0.714">Closed loop stable? Yes</text>
<path d="M580.7,1053.9 H1315.9 A18,18 0 0 1 1333.9,1071.9 V1487.6 A18,18 0 0 1 1315.9,1505.6 H598.7 A18,18 0 0 1 580.7,1487.6 Z" fill="#fbfbfe" stroke="#808080" stroke-width="4"/>
<text transform="translate(613.5,1149.3) scale(1,1.045)" font-size="59.5" fill="#3c3c3c" stroke="#3c3c3c" stroke-width="0.7" letter-spacing="0.493">System: g_closed</text>
<text transform="translate(613.5,1227.7) scale(1,1.045)" font-size="59.5" fill="#3c3c3c" stroke="#3c3c3c" stroke-width="0.7" letter-spacing="0.448">Phase Margin (deg): 96.8</text>
<text transform="translate(613.5,1306.1) scale(1,1.045)" font-size="59.5" fill="#3c3c3c" stroke="#3c3c3c" stroke-width="0.7" letter-spacing="0.413">Delay Margin (sec): 0.025</text>
<text transform="translate(613.5,1384.5) scale(1,1.045)" font-size="59.5" fill="#3c3c3c" stroke="#3c3c3c" stroke-width="0.7" letter-spacing="0.418">At frequency (Hz): 10.7</text>
<text transform="translate(613.5,1462.9) scale(1,1.045)" font-size="59.5" fill="#3c3c3c" stroke="#3c3c3c" stroke-width="0.7" letter-spacing="0.750">Closed loop stable? Yes</text>
<circle cx="984.9" cy="414.8" r="20.0" fill="#0072bd"/>
<circle cx="576.0" cy="1048.0" r="19.6" fill="#0072bd"/>
<text transform="translate(221.2,158.9) scale(1,1.045)" font-size="60.0" fill="#5e5e5e" stroke="#5e5e5e" stroke-width="0.35" text-anchor="end">20</text>
<text transform="translate(221.2,319.1) scale(1,1.045)" font-size="60.0" fill="#5e5e5e" stroke="#5e5e5e" stroke-width="0.35" text-anchor="end">0</text>
<text transform="translate(222.7,476.3) scale(1,1.045)" font-size="60.0" fill="#5e5e5e" stroke="#5e5e5e" stroke-width="0.35" text-anchor="end">-20</text>
<text transform="translate(222.7,636.0) scale(1,1.045)" font-size="60.0" fill="#5e5e5e" stroke="#5e5e5e" stroke-width="0.35" text-anchor="end">-40</text>
<text transform="translate(222.7,796.5) scale(1,1.045)" font-size="60.0" fill="#5e5e5e" stroke="#5e5e5e" stroke-width="0.35" text-anchor="end">-60</text>
<text transform="translate(221.2,961.7) scale(1,1.045)" font-size="60.0" fill="#5e5e5e" stroke="#5e5e5e" stroke-width="0.35" text-anchor="end">315</text>
<text transform="translate(221.2,1092.4) scale(1,1.045)" font-size="60.0" fill="#5e5e5e" stroke="#5e5e5e" stroke-width="0.35" text-anchor="end">270</text>
<text transform="translate(221.2,1222.2) scale(1,1.045)" font-size="60.0" fill="#5e5e5e" stroke="#5e5e5e" stroke-width="0.35" text-anchor="end">225</text>
<text transform="translate(221.2,1350.6) scale(1,1.045)" font-size="60.0" fill="#5e5e5e" stroke="#5e5e5e" stroke-width="0.35" text-anchor="end">180</text>
<text transform="translate(221.2,1479.6) scale(1,1.045)" font-size="60.0" fill="#5e5e5e" stroke="#5e5e5e" stroke-width="0.35" text-anchor="end">135</text>
<text transform="translate(221.2,1611.0) scale(1,1.045)" font-size="60.0" fill="#5e5e5e" stroke="#5e5e5e" stroke-width="0.35" text-anchor="end">90</text>
<text transform="translate(201.6,1699.4) scale(1,1.045)" font-size="60.0" fill="#5e5e5e" stroke="#5e5e5e" stroke-width="0.35">10<tspan font-size="47.5" dy="-29.0" dx="2.0">0</tspan></text>
<text transform="translate(519.6,1699.4) scale(1,1.045)" font-size="60.0" fill="#5e5e5e" stroke="#5e5e5e" stroke-width="0.35">10<tspan font-size="47.5" dy="-29.0" dx="2.0">1</tspan></text>
<text transform="translate(837.4,1699.4) scale(1,1.045)" font-size="60.0" fill="#5e5e5e" stroke="#5e5e5e" stroke-width="0.35">10<tspan font-size="47.5" dy="-29.0" dx="2.0">2</tspan></text>
<text transform="translate(1156.6,1699.4) scale(1,1.045)" font-size="60.0" fill="#5e5e5e" stroke="#5e5e5e" stroke-width="0.35">10<tspan font-size="47.5" dy="-29.0" dx="2.0">3</tspan></text>
<text transform="translate(1474.4,1699.4) scale(1,1.045)" font-size="60.0" fill="#5e5e5e" stroke="#5e5e5e" stroke-width="0.35">10<tspan font-size="47.5" dy="-29.0" dx="2.0">4</tspan></text>
<text transform="translate(1792.3,1699.4) scale(1,1.045)" font-size="60.0" fill="#5e5e5e" stroke="#5e5e5e" stroke-width="0.35">10<tspan font-size="47.5" dy="-29.0" dx="2.0">5</tspan></text>
<text transform="translate(2111.3,1699.4) scale(1,1.045)" font-size="60.0" fill="#5e5e5e" stroke="#5e5e5e" stroke-width="0.35">10<tspan font-size="47.5" dy="-29.0" dx="2.0">6</tspan></text>
<text transform="translate(1198.6,1780.4) scale(1,1.035)" font-size="66.4" fill="#262626" stroke="#262626" stroke-width="0.8" text-anchor="middle" letter-spacing="0.2" xml:space="preserve" style="white-space:pre">Frequency  (Hz)</text>
<text transform="translate(102.6,501.6) rotate(-90) scale(1,1.035)" font-size="66.4" fill="#262626" stroke="#262626" stroke-width="0.8" text-anchor="middle" letter-spacing="0.37">Magnitude (dB)</text>
<text transform="translate(87.9,1258.4) rotate(-90) scale(1,1.035)" font-size="66.4" fill="#262626" stroke="#262626" stroke-width="0.8" text-anchor="middle" letter-spacing="0.37">Phase (deg)</text>
<text transform="translate(1198.4,77.2) scale(1,1.02)" font-size="66.4" font-weight="bold" fill="#000000" stroke="#000000" stroke-width="1.3" text-anchor="middle" letter-spacing="0.02">Bode Plot of the closed Loop control system with PI controller</text>
</g>
</svg>
</body>
</html>
